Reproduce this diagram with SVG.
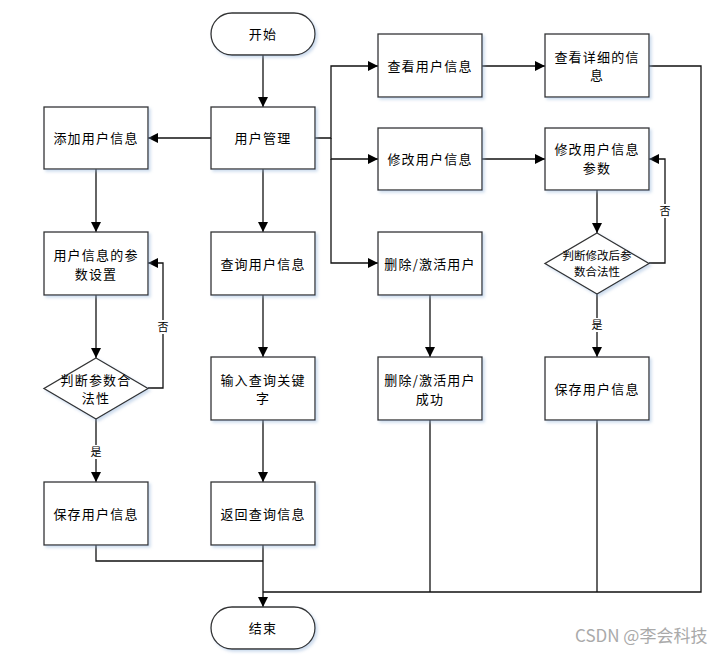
<svg xmlns="http://www.w3.org/2000/svg" width="728" height="655" viewBox="0 0 728 655">
<defs>
<marker id="arr" viewBox="0 0 10 10" refX="10" refY="5" markerWidth="10" markerHeight="10" markerUnits="userSpaceOnUse" orient="auto">
<path d="M0,0 L10,5 L0,10 z" fill="#000"/>
</marker>
<filter id="sh" x="-10%" y="-10%" width="130%" height="130%">
<feDropShadow dx="2" dy="2" stdDeviation="1.5" flood-color="#8fb0d8" flood-opacity="0.45"/>
</filter>
</defs>
<style>
.n{fill:#fff;stroke:#333;stroke-width:1.3;filter:url(#sh)}
.t{font-family:"Noto Sans CJK SC","Noto Sans",sans-serif;font-size:13px;fill:#000;text-anchor:middle;dominant-baseline:central;letter-spacing:1.2px}
.c{fill:none;stroke:#111;stroke-width:1.3}
.a{marker-end:url(#arr)}
.l{font-family:"Noto Sans CJK SC","Noto Sans",sans-serif;font-size:11px;fill:#000;text-anchor:middle;dominant-baseline:central}
.wm{font-family:"Noto Sans CJK SC","Noto Sans",sans-serif;font-size:17px;fill:#aaa}
</style>
<rect width="728" height="655" fill="#fff"/>
<g id="connectors">
<path class="c a" d="M263,55 V107"/>
<path class="c a" d="M211,138 H148"/>
<path class="c a" d="M263,169 V232"/>
<path class="c a" d="M315,138 H331 V66 H378"/>
<path class="c a" d="M331,138 V159 H378"/>
<path class="c a" d="M331,159 V263 H378"/>
<path class="c a" d="M96,169 V232"/>
<path class="c a" d="M96,295 V358"/>
<path class="c a" d="M96,419 V482"/>
<path class="c a" d="M148,388 H163 V263 H148"/>
<path class="c a" d="M263,295 V357"/>
<path class="c a" d="M263,420 V482"/>
<path class="c a" d="M263,545 V607"/>
<path class="c" d="M96,545 V561 H263"/>
<path class="c a" d="M482,66 H545"/>
<path class="c a" d="M482,159 H545"/>
<path class="c a" d="M430,295 V357"/>
<path class="c a" d="M597,190 V233"/>
<path class="c a" d="M649,263 H665 V159 H649"/>
<path class="c a" d="M597,294 V357"/>
<path class="c" d="M430,420 V592"/>
<path class="c" d="M597,420 V592"/>
<path class="c" d="M649,66 H701 V592 H263"/>
<rect x="90" y="445" width="12" height="14" fill="#fff"/>
<text class="l" x="96" y="451">是</text>
<rect x="157" y="320" width="12" height="14" fill="#fff"/>
<text class="l" x="163" y="326">否</text>
<rect x="591" y="318" width="12" height="14" fill="#fff"/>
<text class="l" x="597" y="324">是</text>
<rect x="659" y="204" width="12" height="14" fill="#fff"/>
<text class="l" x="665" y="210">否</text>
</g>
<g id="start"><rect class="n" x="211" y="13" width="104" height="42" rx="21"/><text class="t" x="263" y="33">开始</text></g>
<g id="manage"><rect class="n" x="211" y="107" width="104" height="62"/><text class="t" x="263" y="137">用户管理</text></g>
<g id="add"><rect class="n" x="44" y="107" width="104" height="62"/><text class="t" x="96" y="137">添加用户信息</text></g>
<g id="param"><rect class="n" x="44" y="232" width="104" height="63"/><text class="t" x="96" y="254">用户信息的参</text><text class="t" x="96" y="273">数设置</text></g>
<g id="judge1"><path class="n" d="M96,358 L148,388.5 L96,419 L44,388.5 z"/><text class="t" x="96" y="379">判断参数合</text><text class="t" x="96" y="397">法性</text></g>
<g id="save1"><rect class="n" x="44" y="482" width="104" height="63"/><text class="t" x="96" y="513">保存用户信息</text></g>
<g id="query"><rect class="n" x="211" y="232" width="104" height="63"/><text class="t" x="263" y="263">查询用户信息</text></g>
<g id="keyword"><rect class="n" x="211" y="357" width="104" height="63"/><text class="t" x="263" y="379">输入查询关键</text><text class="t" x="263" y="397">字</text></g>
<g id="result"><rect class="n" x="211" y="482" width="104" height="63"/><text class="t" x="263" y="513">返回查询信息</text></g>
<g id="end"><rect class="n" x="211" y="607" width="104" height="42" rx="21"/><text class="t" x="263" y="627">结束</text></g>
<g id="view"><rect class="n" x="378" y="34" width="104" height="63"/><text class="t" x="430" y="65">查看用户信息</text></g>
<g id="edit"><rect class="n" x="378" y="128" width="104" height="62"/><text class="t" x="430" y="158">修改用户信息</text></g>
<g id="del"><rect class="n" x="378" y="232" width="104" height="63"/><text class="t" x="430" y="263">删除/激活用户</text></g>
<g id="delok"><rect class="n" x="378" y="357" width="104" height="63"/><text class="t" x="430" y="379">删除/激活用户</text><text class="t" x="430" y="398">成功</text></g>
<g id="detail"><rect class="n" x="545" y="34" width="104" height="63"/><text class="t" x="597" y="56">查看详细的信</text><text class="t" x="597" y="74">息</text></g>
<g id="editparam"><rect class="n" x="545" y="128" width="104" height="62"/><text class="t" x="597" y="148">修改用户信息</text><text class="t" x="597" y="167">参数</text></g>
<g id="judge2"><path class="n" d="M597,233 L649,263.5 L597,294 L545,263.5 z"/><text class="t" x="597" y="255" style="font-size:11.5px;letter-spacing:0">判断修改后参</text><text class="t" x="597" y="271" style="font-size:11.5px;letter-spacing:0">数合法性</text></g>
<g id="save2"><rect class="n" x="545" y="357" width="104" height="63"/><text class="t" x="597" y="388">保存用户信息</text></g>
<text class="wm" x="575" y="642">CSDN @李会科技</text>
</svg>
